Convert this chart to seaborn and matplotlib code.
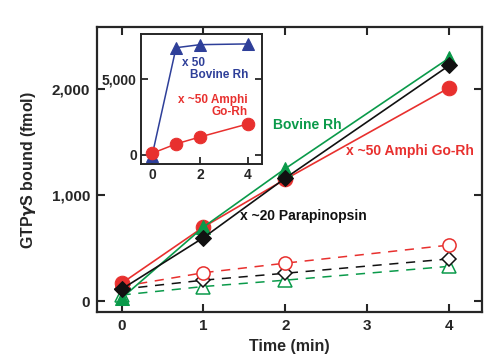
import matplotlib
matplotlib.use("Agg")
import matplotlib.pyplot as plt
import seaborn as sns
import pandas as pd

sns.set_style("ticks")
plt.rcParams['font.family'] = ['Liberation Sans', 'DejaVu Sans']
plt.rcParams['font.weight'] = 'bold'

# --- data -------------------------------------------------------------
time_min = [0, 1, 2, 4]

bovine_light = [30, 700, 1250, 2290]
amphi_light = [170, 700, 1150, 2010]
para_light = [115, 600, 1160, 2220]

bovine_dark = [60, 140, 200, 330]
amphi_dark = [140, 270, 360, 530]
para_dark = [115, 200, 265, 400]

inset_bovine = [-60, 7050, 7250, 7300]
inset_amphi = [100, 720, 1180, 2040]

GREEN = "#0a9a4a"
RED = "#e8302e"
BLUE = "#2e3f99"
BLACK = "#111111"

fig = plt.figure(figsize=(5.0, 3.62), dpi=100)
ax = fig.add_axes([0.194, 0.138, 0.770, 0.787])

# dashed (open markers) series
dark = [(bovine_dark, GREEN, "^"), (para_dark, BLACK, "D"), (amphi_dark, RED, "o")]
for vals, col, mk in dark:
    df = pd.DataFrame({"t": time_min, "v": vals})
    sns.lineplot(data=df, x="t", y="v", ax=ax, color=col, marker=mk,
                 markersize=9.5 if mk != "D" else 7.5, markerfacecolor="white",
                 markeredgecolor=col, markeredgewidth=1.1, linewidth=1.1,
                 linestyle=(0, (6, 5)))

# solid series
light = [(amphi_light, RED, "o", 10.5), (bovine_light, GREEN, "^", 10.5), (para_light, BLACK, "D", 8.5)]
for vals, col, mk, ms in light:
    df = pd.DataFrame({"t": time_min, "v": vals})
    sns.lineplot(data=df, x="t", y="v", ax=ax, color=col, marker=mk,
                 markersize=ms, markeredgecolor=col, linewidth=1.2)

ax.set_xlim(-0.3, 4.4)
ax.set_ylim(-100, 2580)
ax.set_xticks([0, 1, 2, 3, 4])
ax.set_yticks([0, 1000, 2000])
ax.set_yticklabels(["0", "1,000", "2,000"])
ax.tick_params(direction="in", length=6, width=1.5, top=True, right=True,
               labelsize=11, pad=5)
for sp in ax.spines.values():
    sp.set_linewidth(1.6)
ax.set_xlabel("Time (min)", fontsize=11.5, fontweight="bold", labelpad=4)
ax.set_ylabel(r"GTP$\gamma$S bound (fmol)", fontsize=11.5, fontweight="bold", labelpad=10)

ax.text(1.85, 1660, "Bovine Rh", color=GREEN, fontsize=10, fontweight="bold",
        ha="left", va="center")
ax.text(2.74, 1415, "x ~50 Amphi Go-Rh", color=RED, fontsize=10, fontweight="bold",
        ha="left", va="center")
ax.text(1.45, 800, "x ~20 Parapinopsin", color=BLACK, fontsize=10, fontweight="bold",
        ha="left", va="center")

# --- inset ------------------------------------------------------------
ins = fig.add_axes([0.282, 0.547, 0.242, 0.359])
df = pd.DataFrame({"t": time_min, "v": inset_bovine})
sns.lineplot(data=df, x="t", y="v", ax=ins, color=BLUE, marker="^",
             markersize=8.5, markeredgecolor=BLUE, linewidth=1.1)
df = pd.DataFrame({"t": time_min, "v": inset_amphi})
sns.lineplot(data=df, x="t", y="v", ax=ins, color=RED, marker="o",
             markersize=9, markeredgecolor=RED, linewidth=1.1)
ins.set_xlim(-0.46, 4.58)
ins.set_ylim(-600, 7950)
ins.set_xticks([0, 2, 4])
ins.set_yticks([0, 5000])
ins.set_yticklabels(["0", "5,000"])
ins.tick_params(direction="in", length=5, width=1.3, right=True,
                labelsize=10, pad=3)
for sp in ins.spines.values():
    sp.set_linewidth(1.4)
ins.set_xlabel("")
ins.set_ylabel("")
ins.text(1.25, 6050, "x 50", color=BLUE, fontsize=8.5, fontweight="bold",
         ha="left", va="center")
ins.text(4.0, 5250, "Bovine Rh", color=BLUE, fontsize=8.5, fontweight="bold",
         ha="right", va="center")
ins.text(4.0, 3600, "x ~50 Amphi", color=RED, fontsize=8.5, fontweight="bold",
         ha="right", va="center")
ins.text(4.0, 2850, "Go-Rh", color=RED, fontsize=8.5, fontweight="bold",
         ha="right", va="center")

fig.savefig("out.png", dpi=100)
